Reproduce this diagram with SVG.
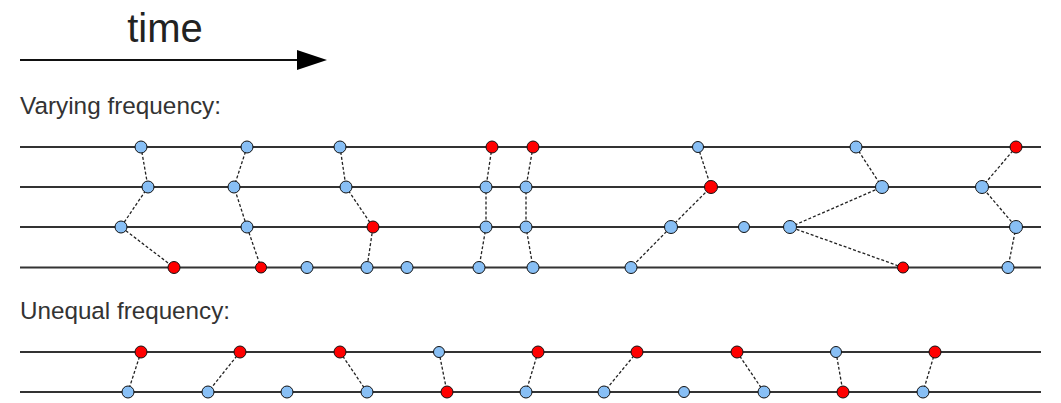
<svg xmlns="http://www.w3.org/2000/svg" width="1061" height="403" viewBox="0 0 1061 403">
<style>
.lbl{font-family:"Liberation Sans",Arial,sans-serif;fill:#333;font-size:24.3px}
.ttl{font-family:"Liberation Sans",Arial,sans-serif;fill:#222;font-size:40px}
.track{stroke:#333;stroke-width:2}
.link{fill:none;stroke:#222;stroke-width:1.3;stroke-dasharray:3 2}
.b{fill:#88bff5;stroke:#111;stroke-width:1}
.r{fill:#f00;stroke:#111;stroke-width:1}
</style>
<rect width="1061" height="403" fill="#fff"/>
<g id="time-axis">
<text class="ttl" x="165" y="42" text-anchor="middle">time</text>
<line x1="20" y1="60" x2="300" y2="60" stroke="#111" stroke-width="2"/>
<polygon points="297,50 327,60 297,70" fill="#000"/>
</g>
<text class="lbl" x="20" y="114" textLength="201" lengthAdjust="spacingAndGlyphs">Varying frequency:</text>
<text class="lbl" x="20" y="318.5" textLength="210" lengthAdjust="spacingAndGlyphs">Unequal frequency:</text>
<g id="tracks">
<line class="track" x1="20" y1="147" x2="1041" y2="147"/>
<line class="track" x1="20" y1="187" x2="1041" y2="187"/>
<line class="track" x1="20" y1="227" x2="1041" y2="227"/>
<line class="track" x1="20" y1="267.5" x2="1041" y2="267.5"/>
<line class="track" x1="20" y1="352" x2="1041" y2="352"/>
<line class="track" x1="20" y1="392" x2="1041" y2="392"/>
</g>
<g id="connectors">
<polyline class="link" points="141,147 148,187 121,227 174,267.5"/>
<polyline class="link" points="247,147 234,187 247,227 261,267.5"/>
<polyline class="link" points="340,147 346,187 373,227 367,267.5"/>
<polyline class="link" points="492,147 486,187 486,227 479,267.5"/>
<polyline class="link" points="533,147 526,187 526,227 533,267.5"/>
<polyline class="link" points="698,147 711,187 671,227 631,267.5"/>
<polyline class="link" points="856,147 882,187 790,227 903,267.5"/>
<polyline class="link" points="1016,147 982,187 1016,227 1008,267.5"/>
<line class="link" x1="141" y1="352" x2="128" y2="392"/>
<line class="link" x1="240" y1="352" x2="208" y2="392"/>
<line class="link" x1="340" y1="352" x2="367" y2="392"/>
<line class="link" x1="439" y1="352" x2="447" y2="392"/>
<line class="link" x1="538" y1="352" x2="526" y2="392"/>
<line class="link" x1="637" y1="352" x2="604" y2="392"/>
<line class="link" x1="737" y1="352" x2="764" y2="392"/>
<line class="link" x1="836" y1="352" x2="843" y2="392"/>
<line class="link" x1="935" y1="352" x2="923" y2="392"/>
</g>
<g id="varying-nodes">
<g id="v1-1"><circle class="b" cx="141" cy="147" r="6"/></g>
<g id="v1-2"><circle class="b" cx="247" cy="147" r="6"/></g>
<g id="v1-3"><circle class="b" cx="340" cy="147" r="6"/></g>
<g id="v1-4"><circle class="r" cx="492" cy="147" r="6"/></g>
<g id="v1-5"><circle class="r" cx="533" cy="147" r="6"/></g>
<g id="v1-6"><circle class="b" cx="698" cy="147" r="5.5"/></g>
<g id="v1-7"><circle class="b" cx="856" cy="147" r="6"/></g>
<g id="v1-8"><circle class="r" cx="1016" cy="147" r="6"/></g>
<g id="v2-1"><circle class="b" cx="148" cy="187" r="6"/></g>
<g id="v2-2"><circle class="b" cx="234" cy="187" r="6"/></g>
<g id="v2-3"><circle class="b" cx="346" cy="187" r="6"/></g>
<g id="v2-4"><circle class="b" cx="486" cy="187" r="6"/></g>
<g id="v2-5"><circle class="b" cx="526" cy="187" r="6"/></g>
<g id="v2-6"><circle class="r" cx="711" cy="187" r="6.5"/></g>
<g id="v2-7"><circle class="b" cx="882" cy="187" r="6.5"/></g>
<g id="v2-8"><circle class="b" cx="982" cy="187" r="6.5"/></g>
<g id="v3-1"><circle class="b" cx="121" cy="227" r="6"/></g>
<g id="v3-2"><circle class="b" cx="247" cy="227" r="6"/></g>
<g id="v3-3"><circle class="r" cx="373" cy="227" r="6"/></g>
<g id="v3-4"><circle class="b" cx="486" cy="227" r="6"/></g>
<g id="v3-5"><circle class="b" cx="526" cy="227" r="6"/></g>
<g id="v3-6"><circle class="b" cx="671" cy="227" r="6.5"/></g>
<g id="v3-7"><circle class="b" cx="744" cy="227" r="5.5"/></g>
<g id="v3-8"><circle class="b" cx="790" cy="227" r="6.5"/></g>
<g id="v3-9"><circle class="b" cx="1016" cy="227" r="6.5"/></g>
<g id="v4-1"><circle class="r" cx="174" cy="267.5" r="6"/></g>
<g id="v4-2"><circle class="r" cx="261" cy="267.5" r="5.5"/></g>
<g id="v4-3"><circle class="b" cx="307" cy="267.5" r="6"/></g>
<g id="v4-4"><circle class="b" cx="367" cy="267.5" r="6"/></g>
<g id="v4-5"><circle class="b" cx="407" cy="267.5" r="6"/></g>
<g id="v4-6"><circle class="b" cx="479" cy="267.5" r="6"/></g>
<g id="v4-7"><circle class="b" cx="533" cy="267.5" r="6"/></g>
<g id="v4-8"><circle class="b" cx="631" cy="267.5" r="6"/></g>
<g id="v4-9"><circle class="r" cx="903" cy="267.5" r="5.5"/></g>
<g id="v4-10"><circle class="b" cx="1008" cy="267.5" r="6"/></g>
</g>
<g id="unequal-nodes">
<g id="u1-1"><circle class="r" cx="141" cy="352" r="6"/></g>
<g id="u1-2"><circle class="r" cx="240" cy="352" r="6"/></g>
<g id="u1-3"><circle class="r" cx="340" cy="352" r="6"/></g>
<g id="u1-4"><circle class="b" cx="439" cy="352" r="5.5"/></g>
<g id="u1-5"><circle class="r" cx="538" cy="352" r="6"/></g>
<g id="u1-6"><circle class="r" cx="637" cy="352" r="6"/></g>
<g id="u1-7"><circle class="r" cx="737" cy="352" r="6"/></g>
<g id="u1-8"><circle class="b" cx="836" cy="352" r="5.5"/></g>
<g id="u1-9"><circle class="r" cx="935" cy="352" r="6"/></g>
<g id="u2-1"><circle class="b" cx="128" cy="392" r="6"/></g>
<g id="u2-2"><circle class="b" cx="208" cy="392" r="6"/></g>
<g id="u2-3"><circle class="b" cx="287" cy="392" r="6"/></g>
<g id="u2-4"><circle class="b" cx="367" cy="392" r="6"/></g>
<g id="u2-5"><circle class="r" cx="447" cy="392" r="6"/></g>
<g id="u2-6"><circle class="b" cx="526" cy="392" r="6"/></g>
<g id="u2-7"><circle class="b" cx="604" cy="392" r="6"/></g>
<g id="u2-8"><circle class="b" cx="684" cy="392" r="5.5"/></g>
<g id="u2-9"><circle class="b" cx="764" cy="392" r="6"/></g>
<g id="u2-10"><circle class="r" cx="843" cy="392" r="6"/></g>
<g id="u2-11"><circle class="b" cx="923" cy="392" r="6"/></g>
</g>
</svg>
